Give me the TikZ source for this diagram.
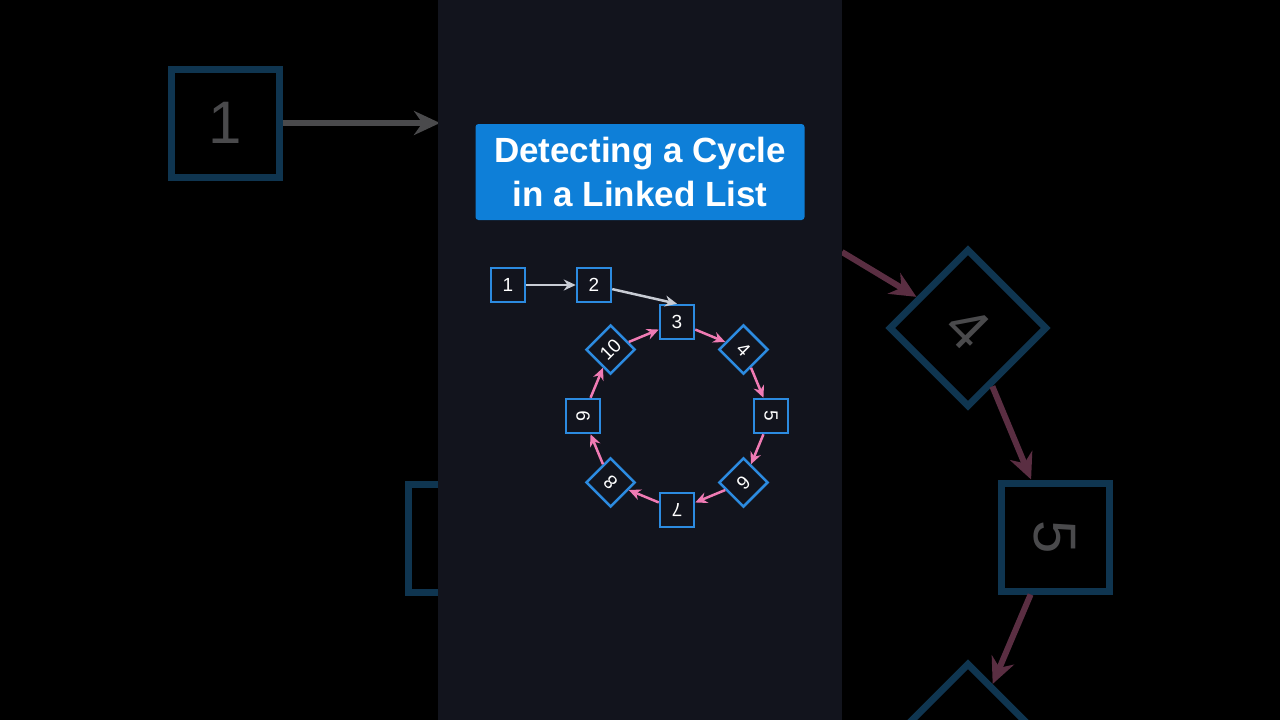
\documentclass[tikz,border=0pt]{standalone}
\usepackage{fontspec}
\setmainfont{Liberation Sans}
\usetikzlibrary{arrows.meta}
\definecolor{panel}{HTML}{12141D}
\definecolor{boxblue}{HTML}{2C8BE0}
\definecolor{titleblue}{HTML}{0E7FD8}
\definecolor{linkpink}{HTML}{F07BB4}
\definecolor{linkgray}{HTML}{C8CCD4}
\definecolor{dimblue}{HTML}{0F3550}
\definecolor{dimpink}{HTML}{5A2E42}
\definecolor{dimgray}{HTML}{4A4A4C}
\tikzset{
  listnode/.style={draw=boxblue, line width=2.5pt, minimum size=34pt, inner sep=0pt, text=white, font=\fontsize{19}{19}\selectfont},
  listlink/.style={-{Stealth[length=12pt,width=11pt]}, line width=2.5pt},
  biglink/.style={-{Stealth[length=26pt,width=24pt]}, line width=6pt},
  bignode/.style={draw=dimblue, line width=7pt, minimum size=108pt, inner sep=0pt, text=dimgray, font=\fontsize{60}{60}\selectfont},
}
\begin{document}
\begin{tikzpicture}[x=1pt,y=-1pt]
\useasboundingbox (0,0) rectangle (1280,720);
\fill[black] (0,0) rectangle (1280,720);

%dimmed background
\node (b1) [bignode] at (225,123) {1};
\coordinate (b1e) at (440,123);
\draw[biglink, dimgray] (b1) -- (b1e);
\node (b0) [bignode] at (462,538) {};
\node (b4) [bignode, rotate=-45, minimum size=110pt] at (968,328) {4};
\node (b5) [bignode, rotate=-90] at (1055,537) {5};
\node (b6) [bignode, rotate=-45, minimum size=110pt] at (968,742) {};
\coordinate (b3e) at (842,252);
\draw[biglink, dimpink] (b3e) -- (b4);
\draw[biglink, dimpink] (b4) -- (b5);
\draw[biglink, dimpink] (b5) -- (b6);

%panel
\fill[panel] (438,0) rectangle (842,720);
\node (title) [fill=titleblue, rounded corners=3pt, minimum width=329pt, minimum height=96pt, align=center, text=white, font=\bfseries\fontsize{35}{44}\selectfont] at (640,172) {Detecting a Cycle\\in a Linked List};

%list
\node (n1) [listnode] at (508,285) {1};
\node (n2) [listnode] at (594,285) {2};
\foreach \i in {3,...,10} {
  \pgfmathsetmacro{\ang}{90-45*(\i-3)}
  \pgfmathsetmacro{\rot}{-45*(\i-3)}
  \node (n\i) [listnode, rotate=\rot] at ({677+94*cos(\ang)},{416-94*sin(\ang)}) {\i};
}
\draw[listlink, linkgray] (n1) -- (n2);
\draw[listlink, linkgray] (n2) -- (n3.north);
\foreach \i/\j in {3/4,4/5,5/6,6/7,7/8,8/9,9/10,10/3}
  \draw[listlink, linkpink] (n\i) -- (n\j);

\end{tikzpicture}
\end{document}
